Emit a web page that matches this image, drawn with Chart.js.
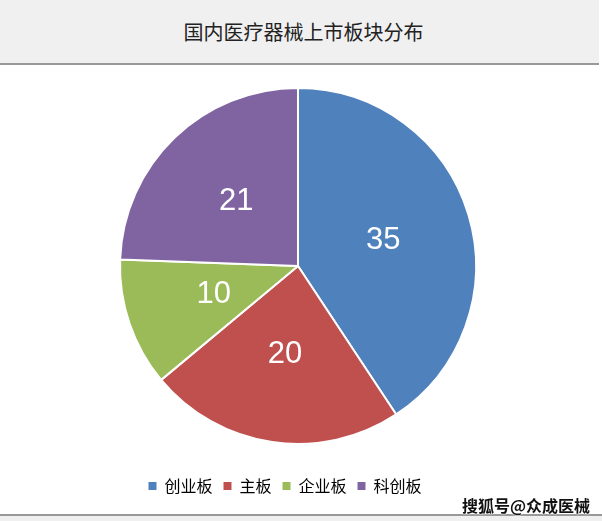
<!DOCTYPE html>
<html>
<head>
<meta charset="utf-8">
<script src="https://cdn.jsdelivr.net/npm/chart.js@4"></script>
<style>
  html, body { margin:0; padding:0; background:#fff; }
  #wrap { position:relative; width:602px; height:521px; overflow:hidden; background:#fff; }
  #titlebar { position:absolute; left:0; top:0; width:591px; height:63px; background:#f0f0f0; border-bottom:2px solid #999;
    font-family:"Noto Sans CJK SC", sans-serif; font-size:20px; color:#222; text-align:center; line-height:63px; padding-left:8px; box-sizing:content-box; }
  #chartbox { position:absolute; left:0; top:65px; width:602px; height:450px; }
  #bottombar { position:absolute; left:0; top:514px; width:602px; height:7px; background:#f0f0f0; border-top:2px solid #999; }
  #wm { position:absolute; left:462px; top:493px; font-family:"Noto Sans CJK SC", sans-serif; font-size:16px; font-weight:bold; color:#111;
    text-shadow: 0 0 2px #fff, 0 0 2px #fff; }
</style>
</head>
<body>
<div id="wrap">
  <div id="titlebar">国内医疗器械上市板块分布</div>
  <div id="chartbox"><canvas id="c" width="602" height="450"></canvas></div>
  <div id="bottombar"></div>
  <div id="wm">搜狐号@众成医械</div>
</div>
<script>
const categories = ["创业板", "主板", "企业板", "科创板"];
const values = [35, 20, 10, 21];
const colors = ["#4F81BD", "#C0504D", "#9BBB59", "#8064A2"];

const labelPlugin = {
  id: 'sliceLabels',
  afterLayout(chart) {
    const lg = chart.legend;
    if (lg) { lg.left -= 13; lg.right -= 13; }
  },
  afterDatasetsDraw(chart) {
    const ctx = chart.ctx;
    const meta = chart.getDatasetMeta(0);
    ctx.save();
    ctx.fillStyle = '#ffffff';
    ctx.font = '31px "Liberation Sans", Arial, sans-serif';
    ctx.textAlign = 'center';
    ctx.textBaseline = 'middle';
    meta.data.forEach((arc, i) => {
      const p = arc.tooltipPosition();
      ctx.fillText(String(values[i]), p.x, p.y);
    });
    ctx.restore();
  }
};

new Chart(document.getElementById('c'), {
  type: 'pie',
  data: {
    labels: categories,
    datasets: [{
      data: values,
      backgroundColor: colors,
      borderColor: '#ffffff',
      borderWidth: 2
    }]
  },
  options: {
    responsive: false,
    animation: false,
    radius: 178,
    layout: { padding: { top: 0, bottom: 11, left: 0, right: 6 } },
    plugins: {
      title: { display: false },
      tooltip: { enabled: false },
      legend: {
        position: 'bottom',
        labels: {
          boxWidth: 8,
          boxHeight: 8,
          padding: 11,
          color: '#595959',
          font: { family: '"Noto Sans CJK SC", sans-serif', size: 16 },
          generateLabels(chart) {
            return categories.map((c, i) => ({
              text: c, fillStyle: colors[i], strokeStyle: colors[i], lineWidth: 0, index: i, hidden: false
            }));
          }
        }
      }
    }
  },
  plugins: [labelPlugin]
});
</script>
</body>
</html>
